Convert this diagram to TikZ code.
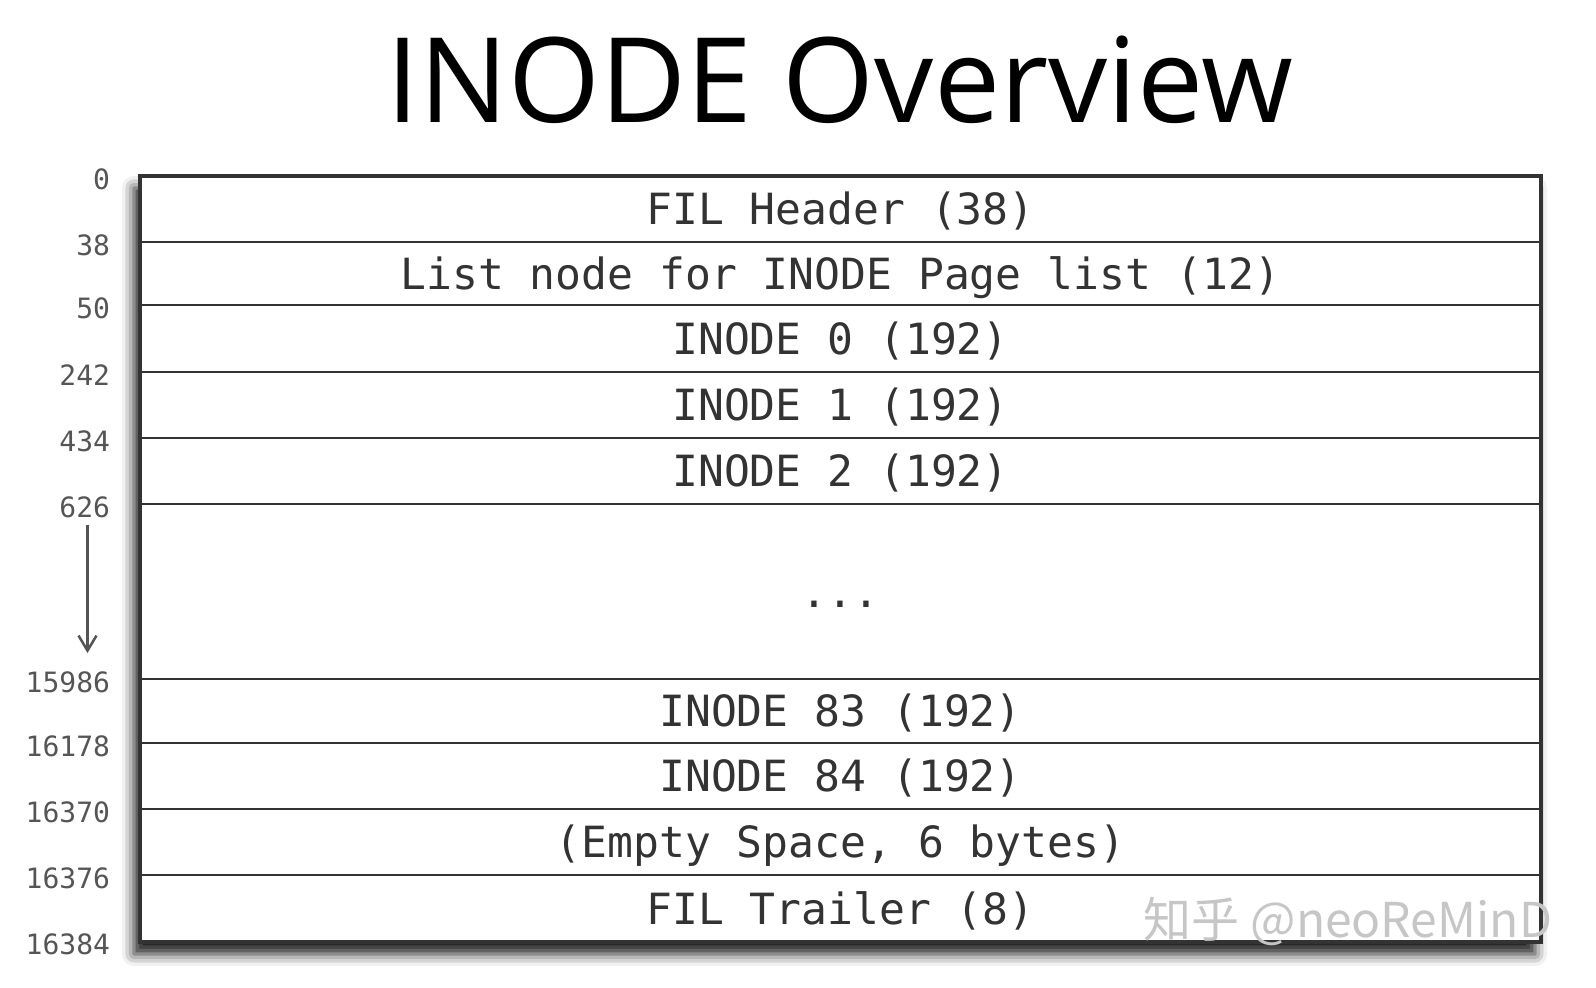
\documentclass[tikz,border=0pt]{standalone}
\usepackage{fontspec}
\setmainfont{Open Sans}
\setmonofont{DejaVu Sans Mono}
\newfontfamily\cjk{Noto Sans CJK SC}
\usepackage{xcolor}
\usetikzlibrary{positioning,arrows.meta,shadows.blur}
\definecolor{linegray}{HTML}{333333}
\definecolor{labelgray}{HTML}{555555}

\begin{document}
\begin{tikzpicture}[x=1pt,y=1pt,node distance=0pt]
\tikzstyle{every node}=[inner sep=0pt,outer sep=0pt]
\tikzstyle{frame}=[draw=linegray,fill=white,line width=3.5pt,minimum width=1401pt,minimum height=766pt,blur shadow={shadow xshift=-6pt,shadow yshift=-12pt,shadow blur radius=12pt,shadow opacity=90}]
\tikzstyle{row}=[draw=linegray,line width=2.5pt,minimum width=1401pt,font=\ttfamily\fontsize{43}{43}\selectfont,text=black!80,text height=31pt,text depth=0pt]
\tikzstyle{offs}=[anchor=east,font=\ttfamily\fontsize{28}{28}\selectfont,text=labelgray]
\useasboundingbox (0,0) rectangle (1596,-988);

% title
\node[font=\fontsize{118}{118}\selectfont,anchor=base] (T) at (840,-122) {INODE Overview};

% page layout
\node[frame,anchor=north west] (B) at (140,-176) {};
\node[row,minimum height=66pt,anchor=north] (R0) at (B.north) {FIL Header (38)};
\node[row,minimum height=63pt] (R1) [below=of R0] {List node for INODE Page list (12)};
\node[row,minimum height=67pt] (R2) [below=of R1] {INODE 0 (192)};
\node[row,minimum height=66pt] (R3) [below=of R2] {INODE 1 (192)};
\node[row,minimum height=66pt] (R4) [below=of R3] {INODE 2 (192)};
\node[row,minimum height=175pt] (R5) [below=of R4] {...};
\node[row,minimum height=64pt] (R6) [below=of R5] {INODE 83 (192)};
\node[row,minimum height=66pt] (R7) [below=of R6] {INODE 84 (192)};
\node[row,minimum height=66pt] (R8) [below=of R7] {(Empty Space, 6 bytes)};
\node[row,minimum height=67pt] (R9) [below=of R8] {FIL Trailer (8)};

% offsets
\node[offs] (L0) at ([xshift=-30pt,yshift=-3pt]R0.north west) {0};
\node[offs] (L1) at ([xshift=-30pt,yshift=-3pt]R1.north west) {38};
\node[offs] (L2) at ([xshift=-30pt,yshift=-3pt]R2.north west) {50};
\node[offs] (L3) at ([xshift=-30pt,yshift=-3pt]R3.north west) {242};
\node[offs] (L4) at ([xshift=-30pt,yshift=-3pt]R4.north west) {434};
\node[offs] (L5) at ([xshift=-30pt,yshift=-3pt]R5.north west) {626};
\node[offs] (L6) at ([xshift=-30pt,yshift=-3pt]R6.north west) {15986};
\node[offs] (L7) at ([xshift=-30pt,yshift=-3pt]R7.north west) {16178};
\node[offs] (L8) at ([xshift=-30pt,yshift=-3pt]R8.north west) {16370};
\node[offs] (L9) at ([xshift=-30pt,yshift=-3pt]R9.north west) {16376};
\node[offs] (L10) at ([xshift=-30pt,yshift=-2pt]R9.south west) {16384};

\coordinate (A0) at (87.5,-525);
\coordinate (A1) at (87.5,-653);
\draw[labelgray,line width=2.5pt,-{Straight Barb[length=15pt,width=18pt]}] (A0) -- (A1);

% watermark
\node[font=\cjk\fontsize{48}{48}\selectfont,text=gray!45,anchor=east] (W) at (1552,-921) {知乎 @neoReMinD};
\end{tikzpicture}
\end{document}
